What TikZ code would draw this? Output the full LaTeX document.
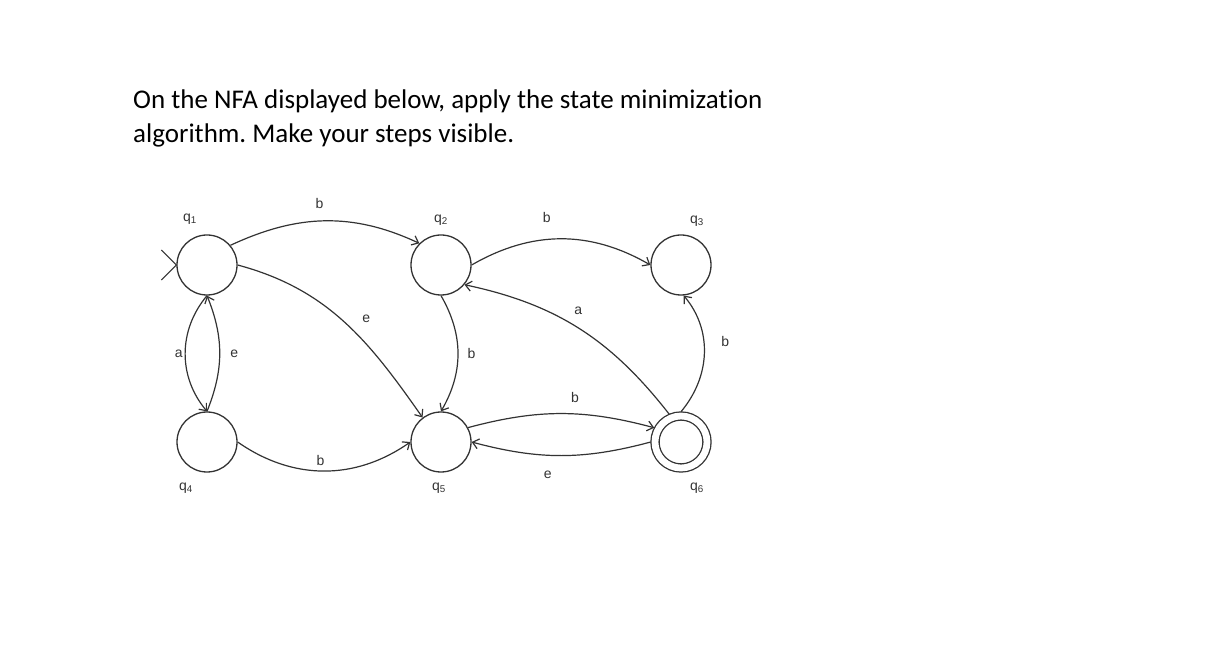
\documentclass[tikz,border=0pt]{standalone}
\usepackage{fontspec}
\setmainfont{Carlito}[Ligatures={NoCommon,NoRequired,NoContextual}]
\newfontfamily\arialfont{Liberation Sans}
\usetikzlibrary{arrows.meta}
\frenchspacing

\begin{document}
\begin{tikzpicture}[x=1pt, y=1pt,
		>={Straight Barb[length=6pt,width=10pt]},
		st/.style={circle, draw=black!80, line width=1.3pt, minimum size=60pt, inner sep=0pt},
		fin/.style={circle, draw=black!80, line width=1.3pt, double, double distance=6.8pt, minimum size=52pt, inner sep=0pt, outer sep=4.3pt},
		tr/.style={->, draw=black!80, line width=1.2pt},
		lbl/.style={font=\arialfont\fontsize{14}{16}\selectfont, text=black!80, inner sep=1pt}]
			\useasboundingbox (0, 0) rectangle (1208, 654);

			% question text
			\node[anchor=base west, font=\fontsize{27}{33}\selectfont, inner sep=0pt] (line1) at (133, 545) {On the NFA displayed below, apply the state minimization};
			\node[anchor=base west, font=\fontsize{27}{33}\selectfont, inner sep=0pt] (line2) at (133, 511) {algorithm. Make your steps visible.};

			% states
			\node[st, label={[lbl, label distance=9pt, xshift=-17pt]above:q\textsubscript{1}}] (q1) at (207, 389) {};
			\node[st, label={[lbl, label distance=8pt]above:q\textsubscript{2}}] (q2) at (441, 389) {};
			\node[st, label={[lbl, label distance=7pt, xshift=16pt]above:q\textsubscript{3}}] (q3) at (681, 389) {};
			\node[st, label={[lbl, label distance=9pt, xshift=-21pt]below:q\textsubscript{4}}] (q4) at (207, 212) {};
			\node[st, label={[lbl, label distance=9pt, xshift=-2pt]below:q\textsubscript{5}}] (q5) at (441, 212) {};
			\node[fin, label={[lbl, label distance=9pt, xshift=16pt]below:q\textsubscript{6}}] (q6) at (681, 212) {};

			% start mark
			\coordinate (s1) at ([shift={(-15, 15)}]q1.west);
			\coordinate (s2) at ([shift={(-15, -15)}]q1.west);
			\draw[draw=black!80, line width=1.2pt] (s1) -- (q1.west) -- (s2);

			% transitions
			\draw[tr] (q1.40) to[out=25, in=155] node[lbl, pos=0.47, above=11pt] {b} (q2.135);
			\draw[tr] (q2.east) to[out=30, in=150] node[lbl, pos=0.42, above=15pt] {b} (q3.west);
			\draw[tr] (q1.east) to[out=-15, in=125] node[lbl, pos=0.56, above right=7pt] {e} (q5.127);
			\draw[tr] (q2.south) to[out=-60, in=60] node[lbl, pos=0.5, right=8pt] {b} (q5.north);
			\draw[tr] (q6.113) to[out=128, in=-12] node[lbl, pos=0.56, above right=5pt] {a} (q2.-40);
			\draw[tr] (q6.north) to[out=50, in=-50] node[lbl, pos=0.6, right=16pt] {b} (q3.-85);
			\draw[tr] (q1.south) to[out=-130, in=130] node[lbl, pos=0.5, left=1pt] {a} (q4.north);
			\draw[tr] (q4.north) to[out=68, in=-68] node[lbl, pos=0.5, right=9pt] {e} (q1.south);
			\draw[tr] (q4.east) to[out=-35, in=-145] node[lbl, pos=0.48, above=4pt] {b} (q5.west);
			\draw[tr] (q5.28) to[out=15, in=165] node[lbl, pos=0.58, above=10pt] {b} (q6.152);
			\draw[tr] (q6.west) to[out=-165, in=-15] node[lbl, pos=0.58, below=14pt] {e} (q5.east);
		\end{tikzpicture}
\end{document}
